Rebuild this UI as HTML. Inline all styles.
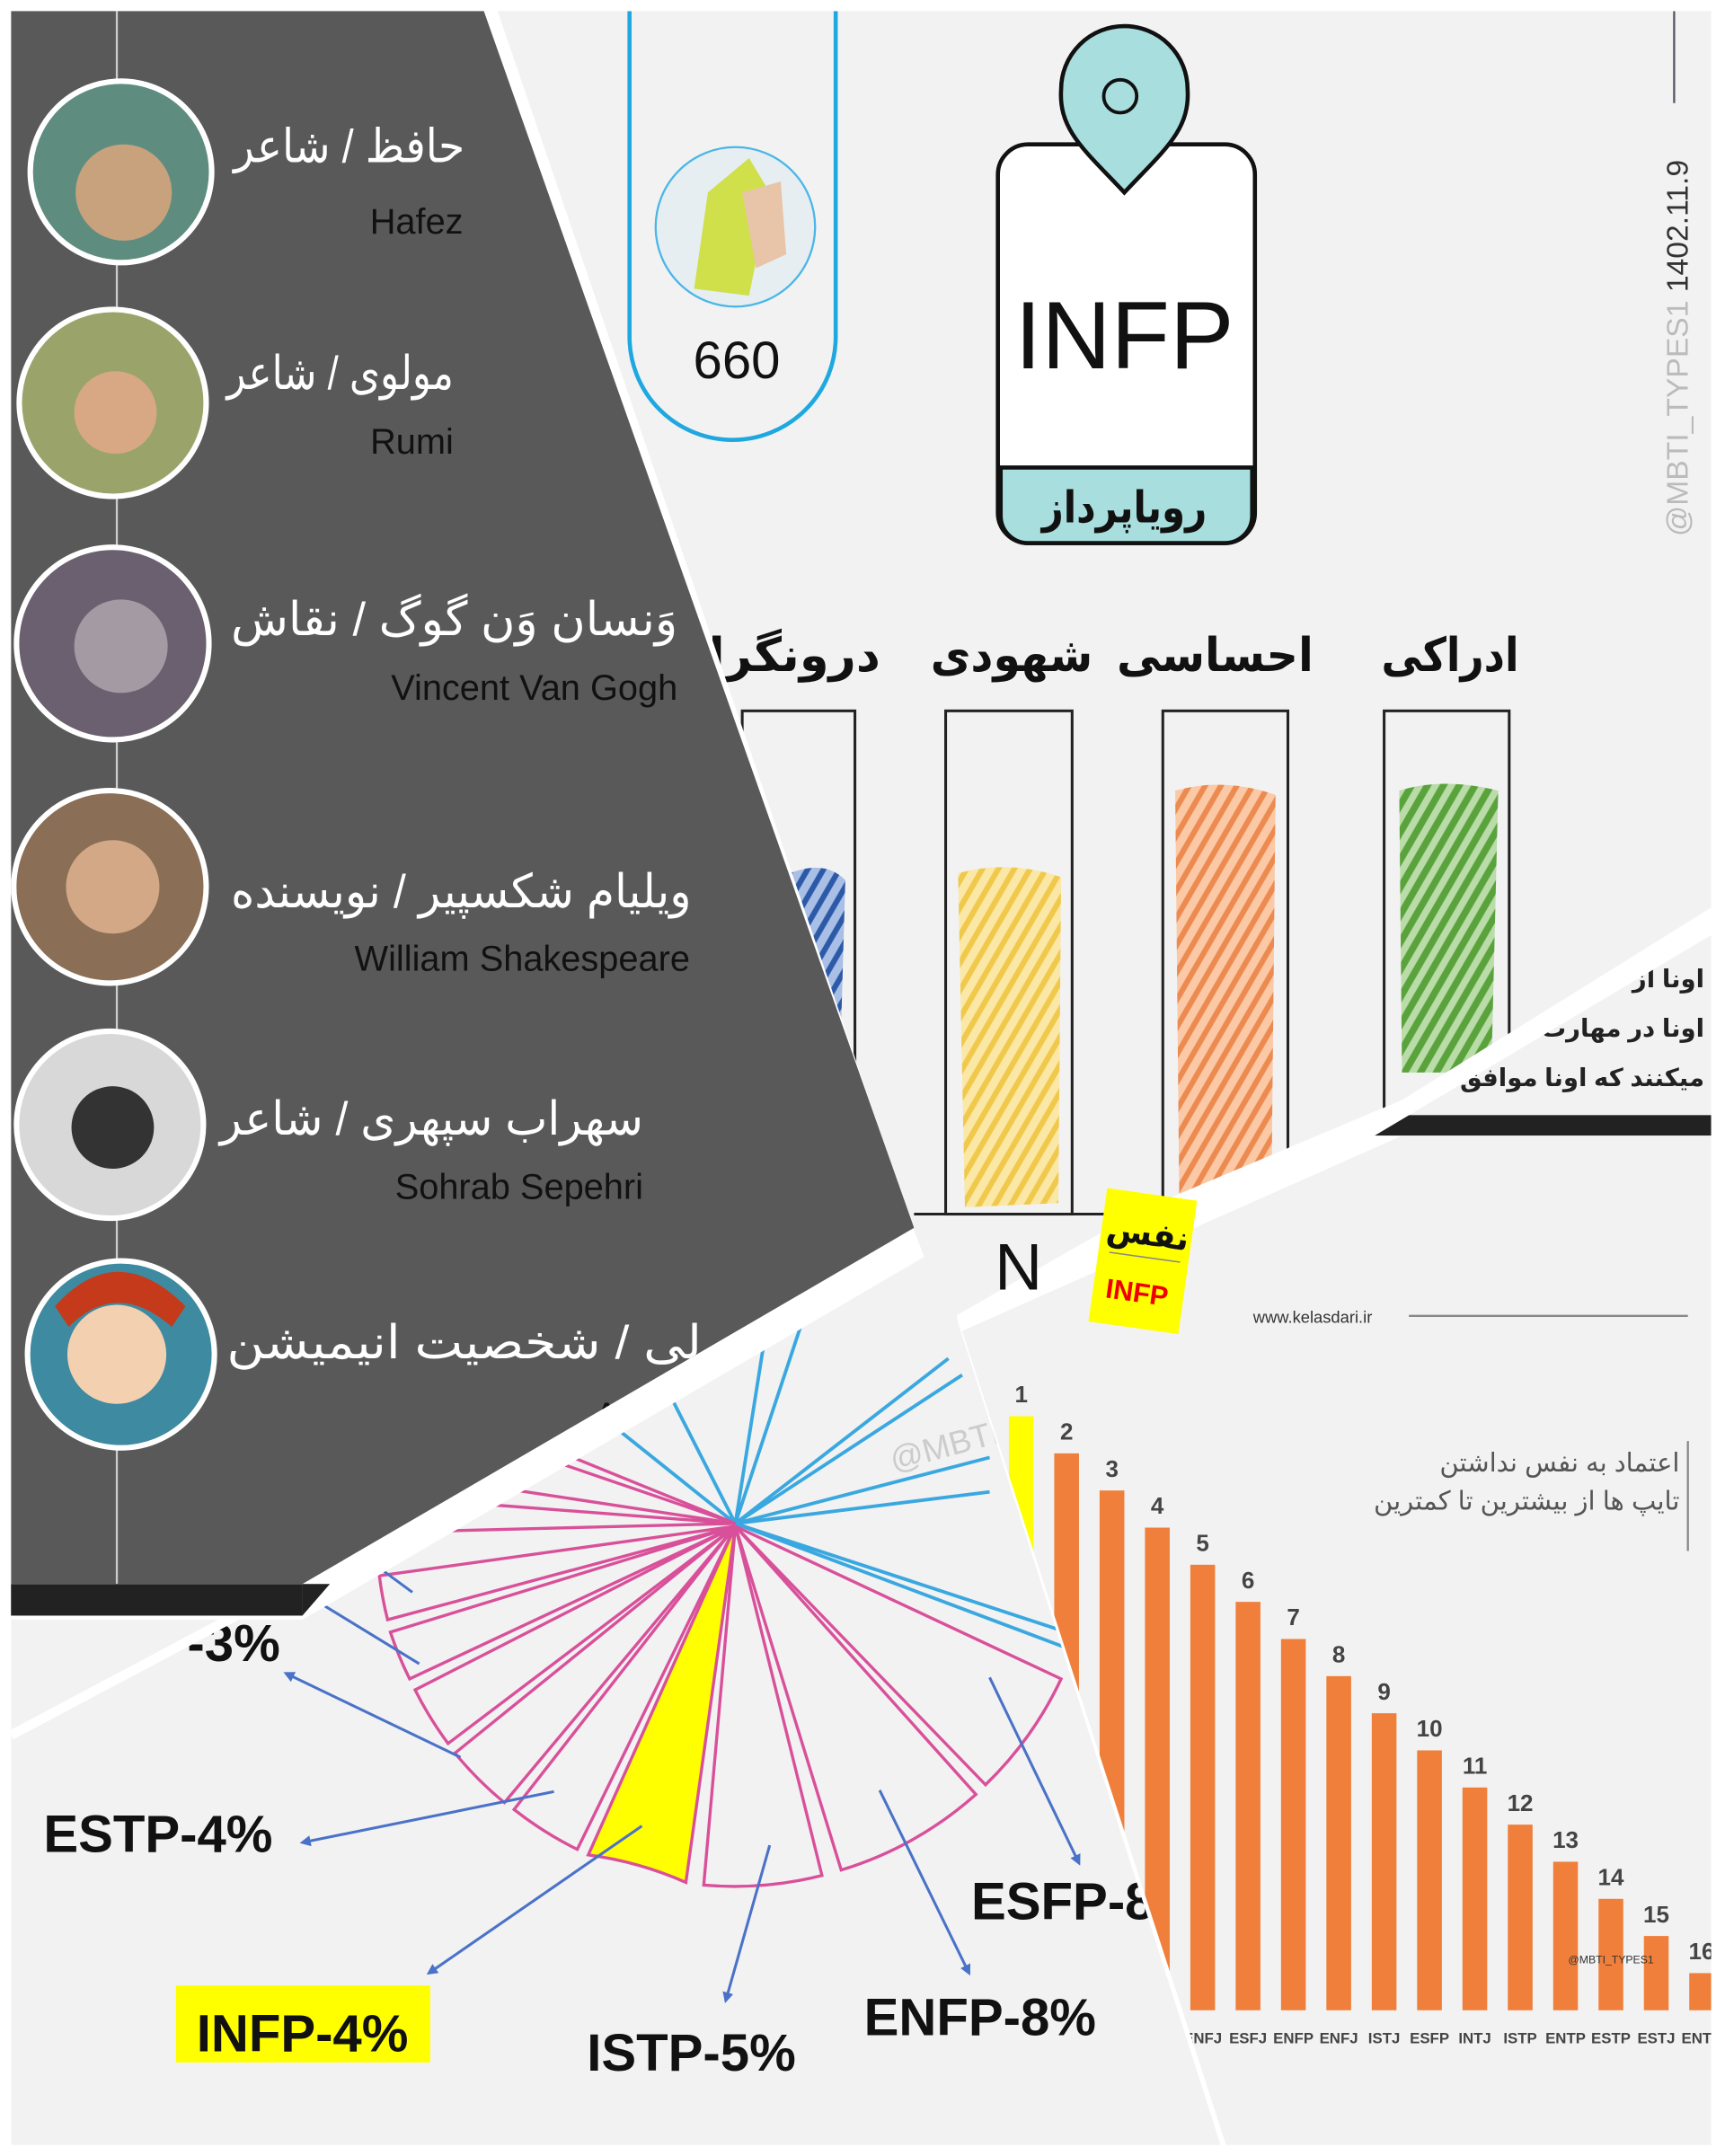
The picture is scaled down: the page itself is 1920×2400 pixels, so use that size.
<!DOCTYPE html>
<html><head><meta charset="utf-8"><style>
html,body{margin:0;padding:0;background:#fff}
svg{display:block}
text{font-family:"Liberation Sans","DejaVu Sans","Noto Sans CJK SC",sans-serif}
</style></head><body>
<svg width="1920" height="2400" viewBox="0 0 1255 1568" preserveAspectRatio="none" xmlns="http://www.w3.org/2000/svg">
<defs>
<clipPath id="cTop"><polygon points="362,8 1245,8 1245,660 1020,800 830,880 690,960 665,895"/></clipPath>
<clipPath id="cBar"><polygon points="700,968 1020,826 1245,826 1245,1560 892,1560"/></clipPath>
<clipPath id="cPie"><polygon points="8,1178 220,1178 688,905 697,962 888,1560 8,1560"/></clipPath>
<clipPath id="cDark"><polygon points="8,8 352,8 665,893 220,1152 8,1152"/></clipPath>
<clipPath id="cTxt"><polygon points="1000,826 1245,680 1245,826"/></clipPath>
<marker id="ar" markerWidth="8" markerHeight="8" refX="6" refY="4" orient="auto" markerUnits="userSpaceOnUse"><path d="M0,0 L8,4 L0,8 Z" fill="#4a72c8"/></marker>
<pattern id="hy" width="10" height="10" patternUnits="userSpaceOnUse" patternTransform="rotate(-60)"><rect width="10" height="10" fill="#fbe7a6"/><line x1="0" y1="5" x2="10" y2="5" stroke="#f0c94a" stroke-width="4"/></pattern>
<pattern id="ho" width="10" height="10" patternUnits="userSpaceOnUse" patternTransform="rotate(-60)"><rect width="10" height="10" fill="#fbc9a6"/><line x1="0" y1="5" x2="10" y2="5" stroke="#ec8a50" stroke-width="4"/></pattern>
<pattern id="hg" width="10" height="10" patternUnits="userSpaceOnUse" patternTransform="rotate(-60)"><rect width="10" height="10" fill="#b9dca8"/><line x1="0" y1="5" x2="10" y2="5" stroke="#5aa33c" stroke-width="5"/></pattern>
<pattern id="hb" width="10" height="10" patternUnits="userSpaceOnUse" patternTransform="rotate(-60)"><rect width="10" height="10" fill="#a9bfe6"/><line x1="0" y1="5" x2="10" y2="5" stroke="#2c5aa8" stroke-width="4"/></pattern>
</defs>
<rect width="1255" height="1568" fill="#fff"/>

<!-- top right panel -->
<g clip-path="url(#cTop)">
<rect x="0" y="0" width="1255" height="1000" fill="#f2f2f2"/>
<path d="M458,8 V245 A75,75 0 0 0 608,245 V8" fill="none" stroke="#1fa8e0" stroke-width="3"/>
<circle cx="535" cy="165" r="58" fill="#e6eef2" stroke="#4bb6e6" stroke-width="1.5"/>
<polygon points="505,210 515,140 545,115 560,140 545,215" fill="#cfe04a"/>
<polygon points="540,140 568,132 572,185 550,195" fill="#e8c4a8"/>
<text x="536" y="275" font-size="38" text-anchor="middle" fill="#111">660</text>
<rect x="726" y="105" width="187" height="290" rx="22" fill="#fff" stroke="#111" stroke-width="3"/>
<path d="M728,340 H911 V375 A20,20 0 0 1 891,395 H748 A20,20 0 0 1 728,375 Z" fill="#a8dede" stroke="#111" stroke-width="3"/>
<path d="M818,140 C790,110 770,95 772,65 A46,46 0 0 1 864,65 C866,95 846,110 818,140 Z" fill="#a8dede" stroke="#111" stroke-width="3"/>
<circle cx="815" cy="70" r="12" fill="none" stroke="#111" stroke-width="2.5"/>
<text x="818" y="268" font-size="70" text-anchor="middle" fill="#111">INFP</text>
<text x="818" y="380" font-size="32" font-weight="bold" text-anchor="middle" fill="#111" font-family="'DejaVu Sans',sans-serif" textLength="120" lengthAdjust="spacingAndGlyphs">رویاپرداز</text>
<line x1="1218" y1="8" x2="1218" y2="75" stroke="#556" stroke-width="1.5"/>
<text transform="translate(1228,390) rotate(-90)" font-size="22" fill="#bbb">@MBTI_TYPES1 <tspan fill="#333">1402.11.9</tspan></text>
<g font-size="34" font-weight="bold" fill="#111" text-anchor="middle" font-family="'DejaVu Sans',sans-serif">
<text x="1055" y="488" textLength="100" lengthAdjust="spacingAndGlyphs">ادراکی</text><text x="884" y="488" textLength="143" lengthAdjust="spacingAndGlyphs">احساسی</text><text x="736" y="488" textLength="118" lengthAdjust="spacingAndGlyphs">شهودی</text><text x="578" y="488" textLength="125" lengthAdjust="spacingAndGlyphs">درونگرا</text></g>
<g fill="none" stroke="#222" stroke-width="2">
<rect x="1007" y="517" width="91" height="300"/><rect x="846" y="517" width="91" height="366"/><rect x="688" y="517" width="92" height="366"/><rect x="540" y="517" width="82" height="366"/></g>
<path d="M1018,575 Q1050,565 1090,575 L1085,780 L1020,780 Z" fill="url(#hg)"/>
<path d="M855,575 Q890,565 928,578 L925,870 L858,875 Z" fill="url(#ho)"/>
<path d="M697,635 Q735,625 772,638 L770,875 L702,878 Z" fill="url(#hy)"/>
<path d="M575,635 Q600,625 615,640 L612,745 L580,750 Z" fill="url(#hb)"/>
<line x1="665" y1="883" x2="850" y2="883" stroke="#222" stroke-width="2"/>
</g>
<!-- text panel -->
<g clip-path="url(#cTxt)"><rect x="900" y="650" width="360" height="180" fill="#f2f2f2"/>
<g font-size="18" font-weight="bold" fill="#222" text-anchor="end" font-family="'DejaVu Sans',sans-serif"><text x="1240" y="718">اونا از صدا</text><text x="1240" y="754">اونا در مهارت نه</text><text x="1240" y="790">میکنند که اونا موافق هستند</text></g>
<rect x="900" y="811" width="345" height="15" fill="#222"/></g>

<!-- bar panel -->
<g clip-path="url(#cBar)">
<rect x="600" y="800" width="700" height="800" fill="#f2f2f2"/>
<text x="955" y="962" font-size="12" text-anchor="middle" fill="#333">www.kelasdari.ir</text>
<line x1="1025" y1="957" x2="1228" y2="957" stroke="#888" stroke-width="1.5"/>
<g font-size="19" fill="#555" text-anchor="end" font-family="'DejaVu Sans',sans-serif"><text x="1222" y="1070">اعتماد به نفس نداشتن</text><text x="1222" y="1098">تایپ ها از بیشترین تا کمترین</text></g>
<line x1="1228" y1="1048" x2="1228" y2="1128" stroke="#888" stroke-width="1.5"/>
<g fill="#ef7f3a">
<rect x="734" y="1030" width="18" height="432" fill="#ffff00"/>
<rect x="767" y="1057" width="18" height="405"/><rect x="800" y="1084" width="18" height="378"/><rect x="833" y="1111" width="18" height="351"/><rect x="866" y="1138" width="18" height="324"/><rect x="899" y="1165" width="18" height="297"/><rect x="932" y="1192" width="18" height="270"/><rect x="965" y="1219" width="18" height="243"/><rect x="998" y="1246" width="18" height="216"/><rect x="1031" y="1273" width="18" height="189"/><rect x="1064" y="1300" width="18" height="162"/><rect x="1097" y="1327" width="18" height="135"/><rect x="1130" y="1354" width="18" height="108"/><rect x="1163" y="1381" width="18" height="81"/><rect x="1196" y="1408" width="18" height="54"/><rect x="1229" y="1435" width="18" height="27"/></g>
<g font-size="17" font-weight="bold" fill="#444" text-anchor="middle">
<text x="743" y="1020">1</text><text x="776" y="1047">2</text><text x="809" y="1074">3</text><text x="842" y="1101">4</text><text x="875" y="1128">5</text><text x="908" y="1155">6</text><text x="941" y="1182">7</text><text x="974" y="1209">8</text><text x="1007" y="1236">9</text><text x="1040" y="1263">10</text><text x="1073" y="1290">11</text><text x="1106" y="1317">12</text><text x="1139" y="1344">13</text><text x="1172" y="1371">14</text><text x="1205" y="1398">15</text><text x="1238" y="1425">16</text></g>
<text x="1172" y="1428" font-size="8" text-anchor="middle" fill="#333">@MBTI_TYPES1</text>
<g font-size="11" font-weight="bold" fill="#444" text-anchor="middle">
<text x="875" y="1486">ENFJ</text><text x="908" y="1486">ESFJ</text><text x="941" y="1486">ENFP</text><text x="974" y="1486">ENFJ</text><text x="1007" y="1486">ISTJ</text><text x="1040" y="1486">ESFP</text><text x="1073" y="1486">INTJ</text><text x="1106" y="1486">ISTP</text><text x="1139" y="1486">ENTP</text><text x="1172" y="1486">ESTP</text><text x="1205" y="1486">ESTJ</text><text x="1238" y="1486">ENTP</text></g>
</g>

<!-- yellow tag -->
<g transform="rotate(8 830 920)"><rect x="798" y="868" width="66" height="98" fill="#ffff00"/><text x="832" y="905" font-size="24" font-weight="bold" text-anchor="middle" fill="#111" font-family="'DejaVu Sans',sans-serif">نفس</text><line x1="806" y1="914" x2="858" y2="914" stroke="#888" stroke-width="1"/><text x="830" y="947" font-size="20" font-weight="bold" text-anchor="middle" fill="#e00">INFP</text></g>

<!-- pie panel -->
<g clip-path="url(#cPie)">
<rect x="0" y="880" width="900" height="700" fill="#f2f2f2"/>
<text x="650" y="1070" font-size="24" fill="#ccc" transform="rotate(-15 650 1070)">@MBTI_TY</text>
<g stroke="#3aa8e0" stroke-width="2.5" fill="none">
<line x1="535" y1="1108" x2="560" y2="950"/><line x1="535" y1="1108" x2="588" y2="948"/><line x1="535" y1="1108" x2="690" y2="988"/><line x1="535" y1="1108" x2="700" y2="1000"/><line x1="535" y1="1108" x2="720" y2="1060"/><line x1="535" y1="1108" x2="720" y2="1085"/><line x1="535" y1="1108" x2="785" y2="1190"/><line x1="535" y1="1108" x2="780" y2="1200"/><line x1="535" y1="1108" x2="480" y2="1000"/><line x1="535" y1="1108" x2="450" y2="1040"/></g>
<g stroke="#d9509a" stroke-width="2.2" fill="none">
<line x1="535" y1="1108" x2="380" y2="1045"/><line x1="535" y1="1108" x2="395" y2="1060"/><line x1="535" y1="1108" x2="350" y2="1080"/><line x1="535" y1="1108" x2="300" y2="1090"/><line x1="535" y1="1108" x2="260" y2="1115"/>
<path d="M535,1110 L428,1349 A262,262 0 0 1 499,1369 Z" fill="#ffff00"/>
<path d="M535,1110 L598,1364 A262,262 0 0 1 512,1371 Z"/>
<path d="M535,1110 L710,1305 A262,262 0 0 1 612,1360 Z"/>
<path d="M535,1110 L772,1221 A262,262 0 0 1 717,1298 Z"/>
<path d="M535,1110 L420,1345 A262,262 0 0 1 374,1316 Z"/>
<path d="M535,1110 L367,1311 A262,262 0 0 1 331,1275 Z"/>
<path d="M535,1110 L326,1268 A262,262 0 0 1 302,1229 Z"/>
<path d="M535,1110 L298,1221 A262,262 0 0 1 284,1187 Z"/>
<path d="M535,1110 L282,1178 A262,262 0 0 1 276,1146 Z"/></g>
<g stroke="#4a72c8" stroke-width="2" marker-end="url(#ar)">
<line x1="335" y1="1278" x2="208" y2="1217"/><line x1="403" y1="1303" x2="220" y2="1340"/><line x1="467" y1="1328" x2="312" y2="1435"/><line x1="560" y1="1342" x2="528" y2="1455"/><line x1="640" y1="1302" x2="705" y2="1435"/><line x1="720" y1="1220" x2="785" y2="1355"/><line x1="305" y1="1210" x2="215" y2="1155"/><line x1="300" y1="1158" x2="262" y2="1130"/></g>
<rect x="128" y="1444" width="185" height="56" fill="#ffff00"/>
<g font-size="38" font-weight="bold" fill="#111" text-anchor="middle">
<text x="170" y="1208">-3%</text><text x="115" y="1347">ESTP-4%</text><text x="220" y="1492">INFP-4%</text><text x="503" y="1506">ISTP-5%</text><text x="713" y="1480">ENFP-8%</text><text x="790" y="1396">ESFP-8%</text></g>
</g>
<line x1="8" y1="1262" x2="345" y2="1083" stroke="#fff" stroke-width="7"/>
<text x="741" y="938" font-size="48" text-anchor="middle" fill="#111">N</text>

<!-- dark panel -->
<g clip-path="url(#cDark)">
<rect x="0" y="0" width="700" height="1160" fill="#595959"/>
<line x1="85" y1="8" x2="85" y2="1152" stroke="#ccc" stroke-width="1.5"/>
<g stroke="#fff" stroke-width="4">
<circle cx="88" cy="125" r="66" fill="#5e8d80"/><circle cx="82" cy="293" r="68" fill="#9aa46a"/><circle cx="82" cy="468" r="70" fill="#6b6070"/><circle cx="80" cy="645" r="70" fill="#8a6e55"/><circle cx="80" cy="818" r="68" fill="#d8d8d8"/><circle cx="88" cy="985" r="68" fill="#3e8aa0"/></g>
<circle cx="90" cy="140" r="35" fill="#c7a27d"/><circle cx="84" cy="300" r="30" fill="#d8a884"/><circle cx="88" cy="470" r="34" fill="#a49aa4"/><circle cx="82" cy="645" r="34" fill="#d2a886"/><circle cx="82" cy="820" r="30" fill="#333"/><circle cx="85" cy="985" r="36" fill="#f3d0b0"/><path d="M40,950 Q85,900 135,950 L125,965 Q85,930 50,965 Z" fill="#c53a1a"/>
<g font-size="34" fill="#fff" text-anchor="end" font-family="'DejaVu Sans',sans-serif">
<text x="338" y="118" textLength="168" lengthAdjust="spacingAndGlyphs">حافظ / شاعر</text><text x="330" y="283" textLength="165" lengthAdjust="spacingAndGlyphs">مولوی / شاعر</text><text x="493" y="462" textLength="325" lengthAdjust="spacingAndGlyphs">وَنسان وَن گوگ / نقاش</text><text x="503" y="660" textLength="335" lengthAdjust="spacingAndGlyphs">ویلیام شکسپیر / نویسنده</text><text x="468" y="825" textLength="308" lengthAdjust="spacingAndGlyphs">سهراب سپهری / شاعر</text><text x="585" y="988" textLength="420" lengthAdjust="spacingAndGlyphs">آنشرلی / شخصیت انیمیشن</text></g>
<g font-size="26" fill="#111" text-anchor="end">
<text x="337" y="170">Hafez</text><text x="330" y="330">Rumi</text><text x="493" y="509">Vincent Van Gogh</text><text x="502" y="706">William Shakespeare</text><text x="468" y="872">Sohrab Sepehri</text><text x="580" y="1038">Anne Shirley</text></g>
</g>
<rect x="8" y="1152" width="212" height="23" fill="#222"/>
<polygon points="220,1152 240,1152 220,1175" fill="#222"/>
</svg>
</body></html>
